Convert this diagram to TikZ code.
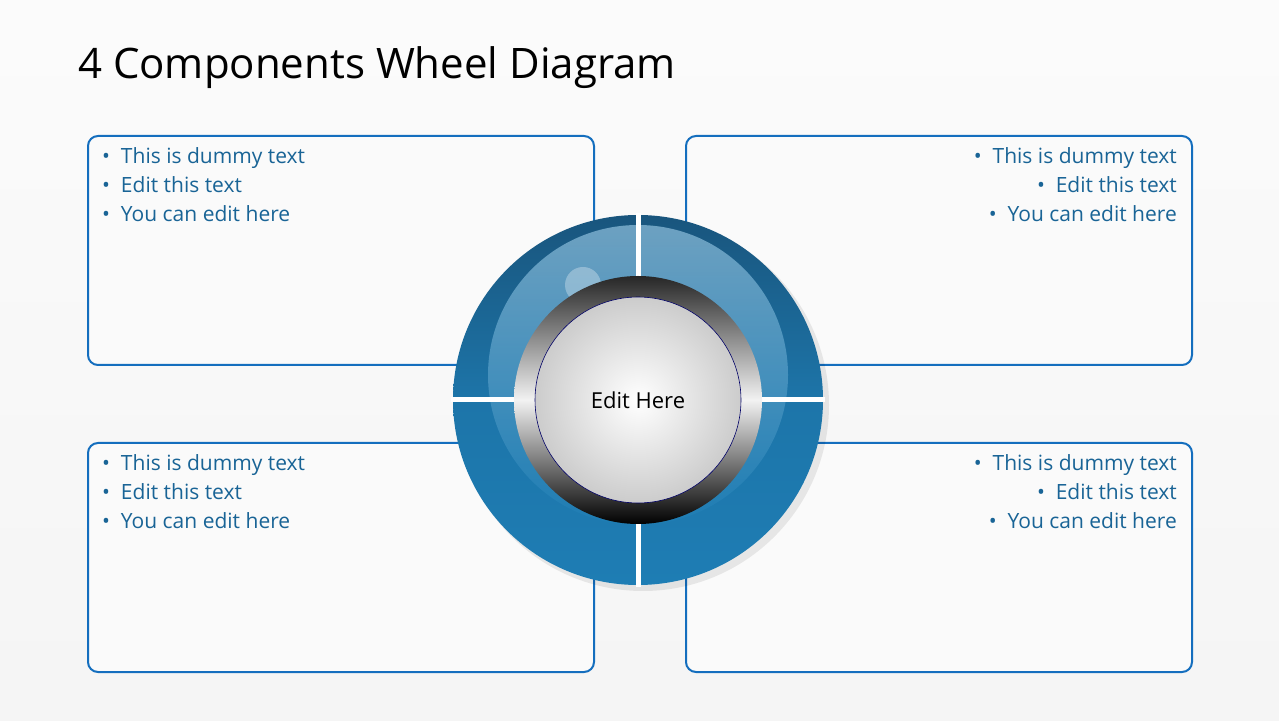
\documentclass[tikz,border=0pt]{standalone}
\usepackage{fontspec}
\setmainfont{Open Sans}
\usetikzlibrary{positioning}
\definecolor{boxblue}{RGB}{20,110,190}
\definecolor{txtblue}{RGB}{25,100,150}
\definecolor{wheeldark}{RGB}{25,85,125}
\definecolor{wheelmid}{RGB}{30,125,180}
\definecolor{wheellight}{RGB}{130,180,210}
\tikzset{
  infobox/.style={draw=boxblue,line width=2pt,rounded corners=10pt,fill=white!96!gray},
  bullets/.style={text=txtblue,font=\fontsize{21}{29}\selectfont,inner sep=0pt},
}
\begin{document}
\begin{tikzpicture}[x=1pt,y=1pt]
    \shade[top color=white!97!gray,bottom color=white!92!gray] (0,0) rectangle (1279,720);
    \useasboundingbox (0,0) rectangle (1279,720);
    % title
    \node[anchor=west,font=\fontsize{42}{50}\selectfont,inner sep=0pt] (title) at (78,652) {4 Components Wheel Diagram};
    % boxes
    \draw[infobox] (88,355) rectangle (594,584);
    \draw[infobox] (686,355) rectangle (1192,584);
    \draw[infobox] (88,48) rectangle (594,277);
    \draw[infobox] (686,48) rectangle (1192,277);
    % texts
    \node[bullets,anchor=north west,align=left] (tl) at (102,573)
      {\textbullet\ \ This is dummy text\\\textbullet\ \ Edit this text\\\textbullet\ \ You can edit here};
    \node[bullets,anchor=north east,align=right] (tr) at (1177,573)
      {\textbullet\ \ This is dummy text\\\textbullet\ \ Edit this text\\\textbullet\ \ You can edit here};
    \node[bullets,anchor=north west,align=left] (bl) at (102,266)
      {\textbullet\ \ This is dummy text\\\textbullet\ \ Edit this text\\\textbullet\ \ You can edit here};
    \node[bullets,anchor=north east,align=right] (br) at (1177,266)
      {\textbullet\ \ This is dummy text\\\textbullet\ \ Edit this text\\\textbullet\ \ You can edit here};
    % wheel
    \coordinate (hub) at (638,320);
    \fill[black,opacity=0.08] ([xshift=5,yshift=-5]hub) circle (186);
    \shade[top color=wheeldark,bottom color=wheelmid,middle color=wheelmid!80!wheeldark] (hub) circle (185);
    \shade[top color=wheellight,bottom color=wheelmid,opacity=0.8] ([yshift=25]hub) circle (150);
    \fill[white,opacity=0.3] ([xshift=-55,yshift=115]hub) circle (18);
    \draw[white,line width=5pt] ([yshift=187]hub) -- ([yshift=-187]hub);
    \draw[white,line width=5pt] ([xshift=-187]hub) -- ([xshift=187]hub);
    \shade[top color=black!85,bottom color=black,middle color=white!90!gray] (hub) circle (124);
    \shade[inner color=white,outer color=black!20] (hub) circle (103);
    \draw[blue!40!black,line width=0.6pt] (hub) circle (103);
    \node[font=\fontsize{22}{26}\selectfont] (centre) at (hub) {Edit Here};
\end{tikzpicture}
\end{document}
